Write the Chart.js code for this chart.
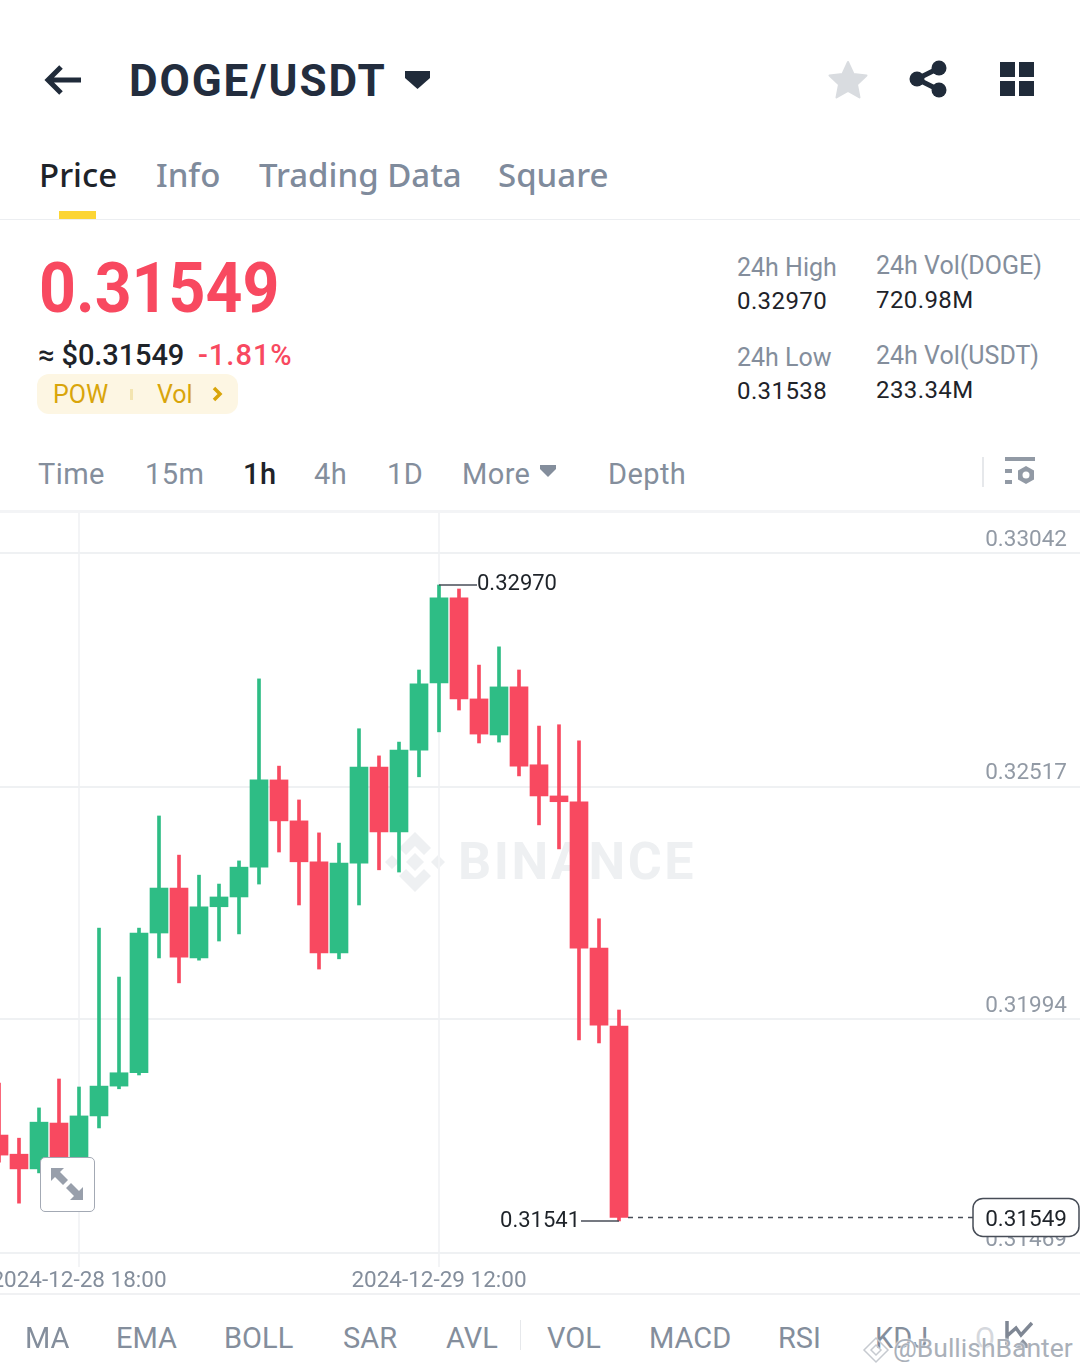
<!DOCTYPE html>
<html lang="en">

<head>
  <meta charset="UTF-8">
  <title>DOGE/USDT</title>
  <script src="https://cdn.jsdelivr.net/npm/chart.js@4/dist/chart.umd.min.js"></script>
  <style>
    html, body { margin: 0; padding: 0; background: #fff; }
    #page { position: relative; width: 1080px; height: 1370px; overflow: hidden; font-family: Roboto, sans-serif; }
    #page > * { position: absolute; }
    .t { line-height: 1; white-space: nowrap; transform: translateY(-50%); }
    .tab { font-size: 33px; font-weight: 500; color: #7f8b9c; top: 174px; font-family: "Noto Sans", sans-serif; }
    .iv { font-size: 29px; color: #848e9c; top: 474px; letter-spacing: 0.4px; }
    .lab { font-size: 25px; color: #848e9c; }
    .val { font-size: 24px; color: #1e2329; letter-spacing: 0.4px; }
    .ind { font-size: 29px; color: #848e9c; top: 1338px; }
    .rule { background: #eceef1; left: 0; width: 1080px; }
    canvas { left: 0; top: 512px; }
  </style>
</head>

<body>
  <div id="page">
    <!-- header -->
    <svg style="left:44px;top:64px" width="38" height="32" viewBox="0 0 38 32"><path d="M37 16H5M17 3L4 16l13 13" fill="none" stroke="#202b3a" stroke-width="5"/></svg>
    <div class="t" style="left:129px;top:81px;font-size:44px;font-weight:700;color:#232d3e;letter-spacing:1.900px">DOGE/USDT</div>
    <svg style="left:405px;top:70px" width="25" height="19"><path d="M0 1H25V8L12.500 19L0 8Z" fill="#202b3a"/></svg>
    <svg style="left:828px;top:60px" width="40" height="40" viewBox="0 0 40 40"><path d="M20 2l5.500 12 13 1.500-9.500 9 2.500 13L20 31l-11.500 6.500 2.500-13-9.500-9 13-1.500z" fill="#d9dce0" stroke="#d9dce0" stroke-width="2" stroke-linejoin="round"/></svg>
    <svg style="left:908px;top:58px" width="40" height="42" viewBox="0 0 40 42"><path d="M31 10L9 21l22 11" fill="none" stroke="#202b3a" stroke-width="5"/><circle cx="31" cy="10" r="7.500" fill="#202b3a"/><circle cx="9" cy="21" r="7.500" fill="#202b3a"/><circle cx="31" cy="32" r="7.500" fill="#202b3a"/></svg>
    <svg style="left:1000px;top:62px" width="34" height="34"><path d="M0 0h15v15H0zM19 0h15v15H19zM0 19h15v15H0zM19 19h15v15H19z" fill="#202b3a"/></svg>

    <!-- tabs -->
    <div class="t tab" style="left:39px;color:#1e2329">Price</div>
    <div class="t tab" style="left:156px">Info</div>
    <div class="t tab" style="left:259px">Trading Data</div>
    <div class="t tab" style="left:498px">Square</div>
    <div style="left:59px;top:211px;width:37px;height:8px;background:#fcd535"></div>
    <div class="rule" style="top:219px;height:1px"></div>

    <!-- price block -->
    <div class="t" style="left:39px;top:288px;font-size:70px;font-weight:700;color:#f84960;transform:translateY(-50%) scaleX(0.92);transform-origin:left center">0.31549</div>
    <div class="t" style="left:38px;top:355px;font-size:29px;font-weight:500;color:#1e2329;letter-spacing:-0.1px">≈ $0.31549</div>
    <div class="t" style="left:198px;top:355px;font-size:29px;font-weight:500;color:#f84960;letter-spacing:1px">-1.81%</div>
    <div style="left:37px;top:374px;width:201px;height:40px;border-radius:12px;background:#fdf6e3"></div>
    <div class="t" style="left:53px;top:394px;font-size:25px;color:#d9a50b">POW</div>
    <div style="left:130px;top:389px;width:3px;height:11px;background:#f3e4b0"></div>
    <div class="t" style="left:157px;top:394px;font-size:25px;color:#d9a50b">Vol</div>
    <svg style="left:212px;top:386px" width="12" height="16"><path d="M2 2l6 6-6 6" fill="none" stroke="#d9a50b" stroke-width="3.500"/></svg>

    <div class="t lab" style="left:737px;top:267px">24h High</div>
    <div class="t val" style="left:737px;top:301px">0.32970</div>
    <div class="t lab" style="left:876px;top:265px">24h Vol(DOGE)</div>
    <div class="t val" style="left:876px;top:300px">720.98M</div>
    <div class="t lab" style="left:737px;top:357px">24h Low</div>
    <div class="t val" style="left:737px;top:391px">0.31538</div>
    <div class="t lab" style="left:876px;top:355px">24h Vol(USDT)</div>
    <div class="t val" style="left:876px;top:390px">233.34M</div>

    <!-- interval row -->
    <div class="t iv" style="left:38px">Time</div>
    <div class="t iv" style="left:145px">15m</div>
    <div class="t iv" style="left:243px;color:#1e2329;font-weight:500">1h</div>
    <div class="t iv" style="left:314px">4h</div>
    <div class="t iv" style="left:387px">1D</div>
    <div class="t iv" style="left:462px">More</div>
    <svg style="left:540px;top:465px" width="16" height="12"><path d="M0 0H16V4L8 12L0 4Z" fill="#848e9c"/></svg>
    <div class="t iv" style="left:608px">Depth</div>
    <div style="left:982px;top:457px;width:2px;height:30px;background:#e6e8eb"></div>
    <svg style="left:1005px;top:457px" width="30" height="30"><path d="M0 0h30v4H0zM0 12h7v4H0zM0 23h7v4H0z" fill="#929aa5"/><path d="M21 9l8 4.500v9L21 27l-8-4.500v-9z" fill="#929aa5"/><circle cx="21" cy="18" r="3.500" fill="#fff"/></svg>
    <div class="rule" style="top:510px;height:3px;background:#f3f4f6"></div>

    <!-- watermark sits under the transparent canvas -->
    <svg style="left:385px;top:832px" width="60" height="60" viewBox="0 0 60 60"><g fill="#eef0f2"><path d="M30 0L46 16 39 23 30 14 21 23 14 16z"/><path d="M30 60L46 44 39 37 30 46 21 37 14 44z"/><path d="M0 30l7-7 7 7-7 7zM46 30l7-7 7 7-7 7z"/><path d="M30 21l9 9-9 9-9-9z"/></g></svg>
    <div class="t" style="left:458px;top:862px;font-size:52px;font-weight:700;color:#eef0f2;letter-spacing:2.500px">BINANCE</div>

    <canvas id="priceChart" width="1080" height="781"></canvas>

    <!-- expand button -->
    <div style="left:40px;top:1157px;width:53px;height:53px;border:1.5px solid #a3a9b4;border-radius:5px;background:#fff"></div>
    <svg style="left:51px;top:1168px" width="32" height="32" viewBox="0 0 32 32"><path d="M0 0h13L9 4l8 8-5 5-8-8-4 4zM32 32H19l4-4-8-8 5-5 8 8 4-4z" fill="#989fab"/></svg>

    <!-- indicators -->
    <div class="rule" style="top:1293px;height:2px;background:#f0f1f3"></div>
    <div class="t ind" style="left:25px">MA</div>
    <div class="t ind" style="left:116px">EMA</div>
    <div class="t ind" style="left:224px">BOLL</div>
    <div class="t ind" style="left:343px">SAR</div>
    <div class="t ind" style="left:446px">AVL</div>
    <div style="left:520px;top:1320px;width:1px;height:30px;background:#e6e8eb"></div>
    <div class="t ind" style="left:547px">VOL</div>
    <div class="t ind" style="left:649px">MACD</div>
    <div class="t ind" style="left:778px">RSI</div>
    <div class="t ind" style="left:875px">KDJ</div>
    <div class="t ind" style="left:975px;color:#d5d8dd">O</div>
    <svg style="left:1005px;top:1321px" width="28" height="28"><path d="M2 0v24M2 15l9-8 5 7L27 2" fill="none" stroke="#7f8794" stroke-width="3.500"/><path d="M10 27h16l-8-9z" fill="#8b93a0"/></svg>
    <svg style="left:862px;top:1336px" width="28" height="28" viewBox="0 0 28 28"><path d="M14 2l12 12-12 12L2 14zM14 9l5 5-5 5-5-5z" fill="none" stroke="#c6cad0" stroke-width="1.500"/></svg>
    <div class="t" style="left:893px;top:1348px;font-size:26.500px;color:#aab0b9;text-shadow:0 0 2px #fff,0 0 2px #fff">@BullishBanter</div>
  </div>

  <script>
    const xTickValues = [4, 22];
    const xTickLabels = ['2024-12-28 18:00', '2024-12-29 12:00'];
    const yTickValues = [0.33042, 0.32517, 0.31994, 0.31469];

    const opens = [0.31734, 0.31691, 0.31658, 0.31761, 0.31673, 0.31777, 0.31844, 0.31874, 0.32188, 0.32289, 0.32132,
      0.32247, 0.32269, 0.32336, 0.32532, 0.32440, 0.32348, 0.32143, 0.32345, 0.32561, 0.32415, 0.32599,
      0.32750, 0.32941, 0.32714, 0.32633, 0.32741, 0.32566, 0.32496, 0.32483, 0.32154, 0.31979];
    const highs = [0.31851, 0.31727, 0.31795, 0.31860, 0.31842, 0.32199, 0.32089, 0.32199, 0.32451, 0.32363, 0.32318,
      0.32298, 0.32350, 0.32759, 0.32563, 0.32487, 0.32413, 0.32390, 0.32647, 0.32586, 0.32617, 0.32779,
      0.32970, 0.32961, 0.32790, 0.32831, 0.32779, 0.32653, 0.32656, 0.32620, 0.32220, 0.32015];
    const lows = [0.31673, 0.31581, 0.31649, 0.31665, 0.31665, 0.31750, 0.31838, 0.31869, 0.32132, 0.32076, 0.32127,
      0.32170, 0.32186, 0.32298, 0.32370, 0.32251, 0.32107, 0.32130, 0.32251, 0.32330, 0.32325, 0.32539,
      0.32640, 0.32689, 0.32615, 0.32617, 0.32541, 0.32431, 0.32377, 0.31948, 0.31941, 0.31541];
    const closes = [0.31689, 0.31658, 0.31763, 0.31673, 0.31777, 0.31844, 0.31874, 0.32188, 0.32289, 0.32134, 0.32247,
      0.32269, 0.32336, 0.32532, 0.32440, 0.32348, 0.32143, 0.32345, 0.32561, 0.32415, 0.32599, 0.32748,
      0.32941, 0.32714, 0.32635, 0.32741, 0.32563, 0.32496, 0.32483, 0.32154, 0.31981, 0.31549];

    const lastPrice = 0.31549;
    const highPrice = 0.32970;
    const lowPrice = 0.31541;

    const green = '#2ebd85';
    const red = '#f84960';
    const ink = '#474d57';
    const candleColors = closes.map((c, i) => (c >= opens[i] ? green : red));

    function leader(from, to, y, dash) {
      return {
        type: 'line',
        data: [{ x: from, y: y }, { x: to, y: y }],
        borderColor: ink,
        borderWidth: 1.5,
        borderDash: dash,
        pointRadius: 0,
        order: 0
      };
    }

    // high/low values and the last price box, placed through the chart's scales
    const priceLabels = {
      id: 'priceLabels',
      afterDraw(chart) {
        const ctx = chart.ctx;
        const xs = chart.scales.x;
        const ys = chart.scales.y;
        ctx.save();
        ctx.font = '22px Roboto';
        ctx.fillStyle = '#1e2329';
        ctx.textBaseline = 'middle';

        ctx.textAlign = 'left';
        ctx.fillText(highPrice.toFixed(5), xs.getPixelForValue(23.9), ys.getPixelForValue(highPrice));
        ctx.textAlign = 'right';
        ctx.fillText(lowPrice.toFixed(5), xs.getPixelForValue(29.05), ys.getPixelForValue(lowPrice) + 1);

        const py = ys.getPixelForValue(lastPrice);
        ctx.beginPath();
        ctx.roundRect(973, py - 19, 106, 38, 10);
        ctx.fillStyle = '#fff';
        ctx.fill();
        ctx.lineWidth = 1.5;
        ctx.strokeStyle = ink;
        ctx.stroke();
        ctx.font = '22.5px Roboto';
        ctx.fillStyle = '#1e2329';
        ctx.fillText(lastPrice.toFixed(5), 1067, py + 3);
        ctx.restore();
      }
    };

    new Chart(document.getElementById('priceChart'), {
      type: 'bar',
      data: {
        datasets: [
          leader(22, 23.9, highPrice),
          leader(29.1, 31, lowPrice),
          leader(31.45, 48.7, lastPrice, [5, 5]),
          {
            data: opens.map((o, i) => ({ x: i, y: [o, closes[i]] })),
            backgroundColor: candleColors,
            barThickness: 18,
            grouped: false,
            order: 1
          },
          {
            data: highs.map((h, i) => ({ x: i, y: [lows[i], h] })),
            backgroundColor: candleColors,
            barThickness: 3,
            grouped: false,
            order: 2
          }
        ]
      },
      plugins: [priceLabels],
      options: {
        responsive: false,
        animation: false,
        devicePixelRatio: 1,
        layout: { autoPadding: false, padding: 0 },
        plugins: { legend: { display: false }, tooltip: { enabled: false } },
        scales: {
          x: {
            type: 'linear',
            offset: false,
            min: 0.05,
            max: 54.05,
            afterBuildTicks(scale) { scale.ticks = xTickValues.map(v => ({ value: v })); },
            afterFit(scale) { scale.height = 40; scale.paddingLeft = 0; scale.paddingRight = 0; },
            border: { display: false },
            grid: { offset: false, color: '#f3f4f6', lineWidth: 2, tickLength: 14 },
            ticks: {
              autoSkip: false,
              maxRotation: 0,
              padding: 1,
              color: '#848e9c',
              font: { family: 'Roboto', size: 22.5 },
              callback: v => xTickLabels[xTickValues.indexOf(v)]
            }
          },
          y: {
            position: 'right',
            min: 0.31469,
            max: 0.33134,
            afterBuildTicks(scale) { scale.ticks = yTickValues.map(v => ({ value: v })); },
            afterFit(scale) { scale.width = 0; scale.paddingTop = 0; scale.paddingBottom = 0; },
            border: { display: false },
            grid: { color: '#eff1f3', lineWidth: 2, drawTicks: false },
            ticks: {
              mirror: true,
              autoSkip: false,
              padding: -13,
              labelOffset: -13,
              color: '#929aa5',
              font: { family: 'Roboto', size: 22.5 },
              callback: v => v.toFixed(5)
            }
          }
        }
      }
    });
  </script>
</body>

</html>
